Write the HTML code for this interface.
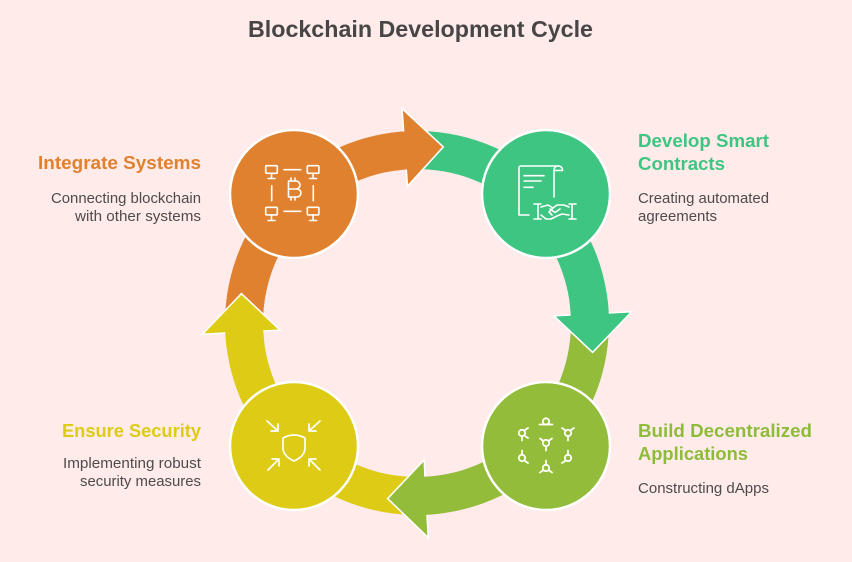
<!DOCTYPE html>
<html>
<head>
<meta charset="utf-8">
<style>
  html,body{margin:0;padding:0;background:#FEEBEA;}
  svg{display:block;}
  .h{font-family:"Liberation Sans",sans-serif;font-weight:bold;font-size:18px;}
  .d{font-family:"Liberation Sans",sans-serif;font-size:15px;fill:#4E4B4B;}
</style>
</head>
<body>
<svg width="852" height="562" viewBox="0 0 852 562" xmlns="http://www.w3.org/2000/svg">
  <rect x="0" y="0" width="852" height="562" fill="#FEEBEA"/>

  <text x="248" y="37" font-family="Liberation Sans, sans-serif" font-weight="bold" font-size="23" fill="#474545" textLength="345" lengthAdjust="spacingAndGlyphs">Blockchain Development Cycle</text>

  <defs>
    <path id="band" d="M 225.26 333.05 A 192 192 0 0 1 413.65 131.03 L 414.31 169.02 A 154 154 0 0 0 263.21 331.06 Z"/>
    <path id="head" d="M 402.0 108.52 L 443.31 146.95 L 407.44 186.33 Z"/>
    <path id="cap" d="M 390.28 132.87 A 192 192 0 0 1 410.30 131.12 L 411.63 169.09 A 154 154 0 0 0 395.57 170.50 Z"/>
  </defs>

  <!-- bands -->
  <use href="#band" fill="#E0812F"/>
  <use href="#band" fill="#3EC581" transform="rotate(91 417 323)"/>
  <use href="#band" fill="#92BC3A" transform="rotate(181 417 323)"/>
  <use href="#band" fill="#DECB16" transform="rotate(271 417 323)"/>

  <!-- heads -->
  <use href="#head" fill="#E0812F" stroke="#FFFFFF" stroke-width="1.6"/>
  <use href="#head" fill="#3EC581" stroke="#FFFFFF" stroke-width="1.6" transform="rotate(91 417 323)"/>
  <use href="#head" fill="#92BC3A" stroke="#FFFFFF" stroke-width="1.6" transform="rotate(181 417 323)"/>
  <use href="#head" fill="#DECB16" stroke="#FFFFFF" stroke-width="1.6" transform="rotate(271 417 323)"/>

  <!-- caps to hide base stroke -->
  <use href="#cap" fill="#E0812F"/>
  <use href="#cap" fill="#3EC581" transform="rotate(91 417 323)"/>
  <use href="#cap" fill="#92BC3A" transform="rotate(181 417 323)"/>
  <use href="#cap" fill="#DECB16" transform="rotate(271 417 323)"/>

  <!-- circles -->
  <circle cx="294" cy="194" r="64" fill="#E0812F" stroke="#FFFFFF" stroke-width="2.5"/>
  <circle cx="546" cy="194" r="64" fill="#3EC581" stroke="#FFFFFF" stroke-width="2.5"/>
  <circle cx="546" cy="446" r="64" fill="#92BC3A" stroke="#FFFFFF" stroke-width="2.5"/>
  <circle cx="294" cy="446" r="64" fill="#DECB16" stroke="#FFFFFF" stroke-width="2.5"/>

  <!-- orange icon: blockchain network -->
  <g fill="none" stroke="#FFFFFF" stroke-width="1.6" stroke-linecap="round" stroke-linejoin="round">
    <rect x="265.7" y="165.7" width="11.6" height="7.6" rx="1"/>
    <path d="M271.5 173.3 V178.5 M268 178.5 H275"/>
    <rect x="307.3" y="165.7" width="11.6" height="7.6" rx="1"/>
    <path d="M313.1 173.3 V178.5 M309.6 178.5 H316.6"/>
    <rect x="265.7" y="207.3" width="11.6" height="7.6" rx="1"/>
    <path d="M271.5 214.9 V220.5 M268 220.5 H275"/>
    <rect x="307.3" y="207.3" width="11.6" height="7.6" rx="1"/>
    <path d="M313.1 214.9 V220.5 M309.6 220.5 H316.6"/>
    <path d="M284 169.7 H300.7 M284 211.3 H300.7 M271.7 185.7 V200.7 M313.3 185.7 V200.7"/>
    <path d="M288.5 181 H296 A4 4 0 0 1 296 189 H288.5 Z M288.5 189 H297 A4 4 0 0 1 297 197 H288.5 Z"/>
    <path d="M291 178 V181 M295 178 V181 M291 197 V200 M295 197 V200"/>
  </g>

  <!-- green icon: contract + handshake -->
  <g fill="none" stroke="#FFFFFF" stroke-width="1.6" stroke-linecap="round" stroke-linejoin="round">
    <path d="M529 215 H519 V168 Q519 166 521 166 H558 Q562.5 166 562.5 170.5 H554 V197"/>
    <path d="M554 170.5 Q554 166 558 166"/>
    <path d="M524 175.7 H544 M524 181 H541 M524 187.3 H533"/>
    <path d="M534 204 H541 M534 219 H541 M538 204 V219"/>
    <path d="M569 204 H576 M569 219 H576 M572 204 V219"/>
    <path d="M541 207 L548 205 L553 208 L557 205 L564 205 L569 207"/>
    <path d="M541 215 L546 219 L551 219 L557 216 L562 214 L569 215"/>
    <path d="M550 209 L555 212.5 L560 209 M553 208 L549 212 L552 215"/>
  </g>

  <!-- lime icon: decentralized network -->
  <g fill="none" stroke="#FFFFFF" stroke-width="1.8" stroke-linecap="round" stroke-linejoin="round">
    <circle cx="546" cy="421.5" r="3.2"/>
    <path d="M539.5 424.5 H552.5"/>
    <circle cx="546" cy="443" r="3.2"/>
    <path d="M540 438.5 L543.5 441 M552 438.5 L548.5 441 M546 446.2 V450.5"/>
    <circle cx="546" cy="468" r="3.2"/>
    <path d="M546 464.8 V460.5 M540 472.5 L543.5 470 M552 472.5 L548.5 470"/>
    <circle cx="522" cy="433" r="3.2"/>
    <path d="M525 430 L528 428 M525 436 L528 438 M522 436.2 V440.5"/>
    <circle cx="568" cy="433" r="3.2"/>
    <path d="M565 430 L562 428 M571 430 L574 428 M568 436.2 V440.5"/>
    <circle cx="522" cy="458" r="3.2"/>
    <path d="M522 454.8 V450.5 M525 461 L528 463"/>
    <circle cx="568" cy="458" r="3.2"/>
    <path d="M568 454.8 V450.5 M565 461 L562 463"/>
  </g>

  <!-- yellow icon: shield with inward arrows -->
  <g fill="none" stroke="#FFFFFF" stroke-width="1.7" stroke-linecap="round" stroke-linejoin="round">
    <path d="M283 438 Q294 432 305 438 V448 Q305 456 294 461 Q283 456 283 448 Z"/>
    <path d="M267 421 L278 431 M278 424 V431 H271"/>
    <path d="M320 421 L309 431 M309 424 V431 H316"/>
    <path d="M268 470 L279 459 M272 459 H279 V466"/>
    <path d="M320 470 L309 459 M316 459 H309 V466"/>
  </g>

  <!-- labels -->
  <text class="h" x="38" y="169" fill="#E0812F" textLength="163" lengthAdjust="spacingAndGlyphs">Integrate Systems</text>
  <text class="d" x="51" y="203" textLength="150" lengthAdjust="spacingAndGlyphs">Connecting blockchain</text>
  <text class="d" x="75" y="221" textLength="126" lengthAdjust="spacingAndGlyphs">with other systems</text>

  <text class="h" x="638" y="147" fill="#3EC581" textLength="131" lengthAdjust="spacingAndGlyphs">Develop Smart</text>
  <text class="h" x="638" y="170" fill="#3EC581" textLength="87" lengthAdjust="spacingAndGlyphs">Contracts</text>
  <text class="d" x="638" y="203" textLength="131" lengthAdjust="spacingAndGlyphs">Creating automated</text>
  <text class="d" x="638" y="221" textLength="79" lengthAdjust="spacingAndGlyphs">agreements</text>

  <text class="h" x="638" y="437" fill="#8EBC3A" textLength="174" lengthAdjust="spacingAndGlyphs">Build Decentralized</text>
  <text class="h" x="638" y="460" fill="#8EBC3A" textLength="110" lengthAdjust="spacingAndGlyphs">Applications</text>
  <text class="d" x="638" y="493" textLength="131" lengthAdjust="spacingAndGlyphs">Constructing dApps</text>

  <text class="h" x="62" y="437" fill="#DECB16" textLength="139" lengthAdjust="spacingAndGlyphs">Ensure Security</text>
  <text class="d" x="63" y="468" textLength="138" lengthAdjust="spacingAndGlyphs">Implementing robust</text>
  <text class="d" x="80" y="486" textLength="121" lengthAdjust="spacingAndGlyphs">security measures</text>
</svg>
</body>
</html>
